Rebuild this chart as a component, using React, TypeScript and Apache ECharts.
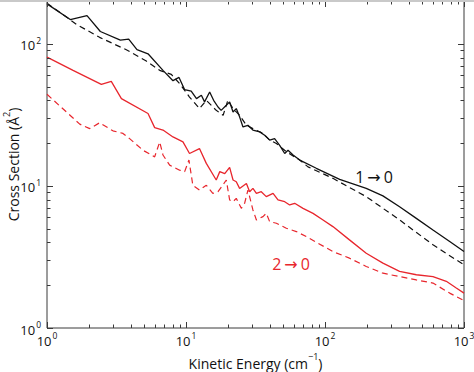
import React, { useEffect, useRef } from "react";
import * as echarts from "echarts";

const xBlackSolid = [1, 1.47, 1.94, 2.42, 3.37, 3.87, 4.44, 5.33, 6.83, 8.06, 8.91, 9.78, 10.9, 11.9, 12.9, 13.6, 14.8, 15.8, 17.0, 17.9, 19.5, 20.6, 21.8, 23.0, 24.3, 25.7, 27.9, 30.3, 33.9, 36.8, 40.0, 43.4, 47.2, 51.3, 54.2, 58.9, 65.8, 86.6, 127.5, 198, 261, 344, 454, 598, 789, 1000];
const yBlackSolid = [191, 148, 158, 122, 106, 108, 91, 85, 65, 55, 58, 47.5, 46.5, 41.1, 43.4, 39.0, 45.8, 40.0, 35.9, 34.0, 36.9, 39.0, 33.1, 35.0, 30.6, 26.0, 26.7, 24.7, 24.0, 22.7, 21.0, 21.5, 19.3, 16.9, 17.8, 16.5, 15.2, 13.3, 11.1, 9.6, 8.5, 7.14, 5.91, 4.90, 4.06, 3.45];

const xBlackDashed = [1, 1.63, 2.39, 3.72, 5.18, 6.47, 7.84, 9.0, 10.6, 12.5, 14.0, 16.5, 18.5, 20.0, 21.8, 24.3, 27.2, 30.3, 35.8, 40.0, 44.7, 52.7, 65.8, 75.5, 114, 198, 344, 598, 1000];
const yBlackDashed = [193, 137, 111, 90.8, 75.6, 65.0, 60.9, 52.4, 42.2, 35.0, 40.0, 34.0, 31.4, 40.0, 35.0, 31.4, 26.7, 25.3, 23.4, 21.0, 19.9, 17.4, 15.2, 13.6, 11.3, 8.4, 5.76, 3.85, 2.78];

const xRedSolid = [1, 1.54, 2.46, 2.9, 3.43, 5.33, 5.95, 6.83, 8.06, 9.51, 10.6, 12.5, 14.0, 16.5, 17.5, 19.0, 20.6, 21.8, 23.0, 24.3, 27.2, 28.7, 30.3, 32.1, 34.8, 37.8, 42.3, 45.9, 51.3, 55.7, 60.5, 69.5, 82.0, 96.8, 114, 150, 198, 261, 344, 454, 598, 746, 880, 1000];
const yRedSolid = [80.6, 65.0, 51.8, 54.4, 41.1, 32.3, 25.7, 24.7, 22.1, 20.4, 16.9, 18.3, 14.4, 11.0, 12.6, 12.2, 13.5, 11.0, 10.7, 9.6, 10.4, 9.1, 9.6, 8.86, 9.1, 8.4, 8.86, 7.96, 7.74, 7.34, 7.54, 6.95, 6.41, 5.76, 5.17, 4.17, 3.36, 2.86, 2.50, 2.37, 2.30, 2.13, 1.91, 1.76];

const xRedDashed = [1, 1.38, 1.72, 2.03, 2.39, 2.98, 3.52, 3.93, 4.91, 5.95, 6.47, 6.83, 7.63, 9.0, 9.78, 10.5, 11.2, 12.5, 14.0, 15.6, 17.0, 19.5, 20.6, 21.8, 23.0, 25.0, 26.4, 27.9, 30.3, 32.1, 35.8, 37.8, 40.0, 44.7, 52.7, 62.2, 73.4, 86.6, 114, 150, 198, 261, 344, 454, 598, 789, 1000];
const yRedDashed = [44.1, 33.1, 27.2, 25.3, 27.8, 24.4, 23.4, 21.5, 17.8, 16.0, 20.4, 16.5, 14.0, 12.9, 12.6, 15.2, 10.1, 9.35, 10.1, 8.86, 9.1, 11.0, 7.96, 7.74, 8.17, 6.95, 7.54, 9.35, 6.77, 5.76, 6.08, 6.41, 5.6, 5.46, 5.03, 4.77, 4.4, 4.01, 3.45, 3.1, 2.71, 2.43, 2.3, 2.18, 2.07, 1.76, 1.56];

const xMajorTicks = [1, 10, 100, 1000];
const yMajorTicks = [1, 10, 100];
const minorMultipliers = [2, 3, 4, 5, 6, 7, 8, 9];

const xMin = 1;
const xMax = 1000;
const yMin = 1;
const yMax = 200;

const zip = (xs: number[], ys: number[]) => xs.map((x, i) => [x, ys[i]]);

const RED = "#e8262d";
const BLACK = "#111111";
const AXIS = "#3a3a3a";
const FONT = "Open Sans";

function buildTicks() {
  const out: number[][] = [];
  xMajorTicks.forEach((v) => out.push([v, yMin, 1]));
  xMajorTicks.slice(0, -1).forEach((d) =>
    minorMultipliers.forEach((m) => out.push([d * m, yMin, 0]))
  );
  yMajorTicks.forEach((v) => out.push([xMin, v, 3]));
  yMajorTicks.forEach((d) =>
    minorMultipliers.forEach((m) => {
      if (d * m < yMax) out.push([xMin, d * m, 2]);
    })
  );
  return out;
}

const powLabel = (v: number) => {
  const l = Math.log10(v);
  const r = Math.round(l);
  if (Math.abs(l - r) > 1e-6) return "";
  return `{b|10}{s|${r}}`;
};

const arrowRich = (color: string) => ({
  t: { fontSize: 16, fontFamily: FONT, fill: color, lineHeight: 20 },
  a: { fontSize: 16, fontFamily: "DejaVu Sans", fill: color, lineHeight: 20, padding: [0, 3, 0, 3] },
});

export default function App() {
  const ref = useRef<HTMLDivElement>(null);
  useEffect(() => {
    document.body.style.margin = "0";
    const chart = echarts.init(ref.current!, null, { renderer: "svg" });
    const labelRich = {
      b: { fontSize: 13, fontFamily: FONT, color: "#111", lineHeight: 16, verticalAlign: "bottom" },
      s: { fontSize: 8.5, fontFamily: FONT, color: "#111", lineHeight: 16, verticalAlign: "top", padding: [0, 0, 7, 1] },
    };
    const nameRich = {
      n: { fontSize: 14, fontFamily: FONT, color: "#111", lineHeight: 18, verticalAlign: "bottom" },
      s: { fontSize: 9, fontFamily: FONT, color: "#111", lineHeight: 18, verticalAlign: "top", padding: [0, 0, 7, 0] },
    };
    chart.setOption({
      animation: false,
      backgroundColor: "#ffffff",
      grid: {
        left: 47,
        right: 10,
        top: 1,
        bottom: 44,
        show: true,
        containLabel: false,
        outerBoundsMode: "none",
        borderColor: AXIS,
        borderWidth: 1,
        backgroundColor: "transparent",
      },
      xAxis: {
        type: "log",
        logBase: 10,
        min: xMin,
        max: xMax,
        splitLine: { show: false },
        axisLine: { show: false },
        axisTick: { show: false },
        axisLabel: {
          formatter: powLabel,
          rich: labelRich,
          margin: 3,
          showMaxLabel: true,
          hideOverlap: false,
        },
        name: "{n|Kinetic Energy (cm}{s|−1}{n|)}",
        nameLocation: "middle",
        nameGap: 24,
        nameMoveOverlap: false,
        nameTextStyle: { rich: nameRich },
      },
      yAxis: {
        type: "log",
        logBase: 10,
        min: yMin,
        max: yMax,
        splitLine: { show: false },
        axisLine: { show: false },
        axisTick: { show: false },
        axisLabel: {
          formatter: powLabel,
          rich: labelRich,
          margin: 6,
          hideOverlap: false,
        },
        name: "{n|Cross Section (Å}{s|2}{n|)}",
        nameLocation: "middle",
        nameGap: 27,
        nameRotate: 90,
        nameMoveOverlap: false,
        nameTextStyle: { rich: nameRich },
      },
      series: [
        {
          type: "line",
          name: "1→0 solid",
          data: zip(xBlackSolid, yBlackSolid),
          showSymbol: false,
          lineStyle: { color: BLACK, width: 1.3 },
          z: 3,
        },
        {
          type: "line",
          name: "1→0 dashed",
          data: zip(xBlackDashed, yBlackDashed),
          showSymbol: false,
          lineStyle: { color: BLACK, width: 1.2, type: [6, 4] },
          z: 3,
        },
        {
          type: "line",
          name: "2→0 solid",
          data: zip(xRedSolid, yRedSolid),
          showSymbol: false,
          lineStyle: { color: RED, width: 1.3 },
          z: 3,
        },
        {
          type: "line",
          name: "2→0 dashed",
          data: zip(xRedDashed, yRedDashed),
          showSymbol: false,
          lineStyle: { color: RED, width: 1.2, type: [6, 4] },
          z: 3,
        },
        {
          type: "custom",
          name: "ticks",
          data: buildTicks(),
          encode: { x: 0, y: 1 },
          silent: true,
          z: 4,
          renderItem: (params: any, api: any) => {
            const kind = api.value(2);
            const cs = params.coordSys;
            const style = { stroke: AXIS, lineWidth: 1 };
            if (kind < 2) {
              const p = api.coord([api.value(0), yMin]);
              const len = kind === 1 ? 6 : 3.5;
              const X = Math.round(p[0]) + 0.5;
              const yb = cs.y + cs.height;
              return {
                type: "group",
                children: [
                  { type: "line", shape: { x1: X, y1: yb, x2: X, y2: yb - len }, style },
                  { type: "line", shape: { x1: X, y1: cs.y, x2: X, y2: cs.y + len }, style },
                ],
              };
            }
            const p = api.coord([xMin, api.value(1)]);
            const len = kind === 3 ? 6 : 3.5;
            const Y = Math.round(p[1]) + 0.5;
            const xr = cs.x + cs.width;
            return {
              type: "group",
              children: [
                { type: "line", shape: { x1: cs.x, y1: Y, x2: cs.x + len, y2: Y }, style },
                { type: "line", shape: { x1: xr, y1: Y, x2: xr - len, y2: Y }, style },
              ],
            };
          },
        },
      ],
      graphic: [
        {
          type: "rect",
          left: 0,
          top: 0,
          shape: { width: 474, height: 2 },
          style: { fill: "#c9c9c9" },
          z: 10,
        },
        {
          type: "text",
          x: 374,
          y: 177,
          style: {
            text: "{t|1}{a|→}{t|0}",
            rich: arrowRich("#111"),
            fill: "#111",
            align: "center",
            verticalAlign: "middle",
          },
          z: 10,
        },
        {
          type: "text",
          x: 291,
          y: 264,
          style: {
            text: "{t|2}{a|→}{t|0}",
            rich: arrowRich(RED),
            fill: RED,
            align: "center",
            verticalAlign: "middle",
          },
          z: 10,
        },
      ],
    });
    return () => chart.dispose();
  }, []);
  return (
    <div
      ref={ref}
      style={{ position: "fixed", left: 0, top: 0, width: 474, height: 372 }}
    />
  );
}
